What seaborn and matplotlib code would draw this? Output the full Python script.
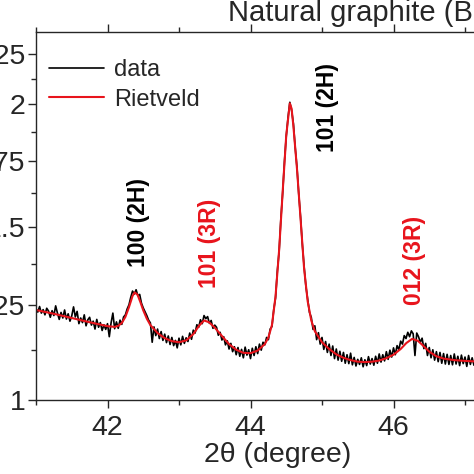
import numpy as np
import pandas as pd
import matplotlib
matplotlib.use("Agg")
import matplotlib.pyplot as plt
import seaborn as sns
from matplotlib.ticker import FixedLocator, FixedFormatter, MultipleLocator, NullFormatter

# ---------------- data ----------------
# measured pattern: 2theta scan from 41.0 to 47.5 deg, step 0.025
scan_start = 41.0
scan_stop = 47.5
data_intensity = [
    1.238, 1.229, 1.245, 1.226, 1.236, 1.221, 1.240, 1.232, 1.214, 1.233,
    1.219, 1.247, 1.226, 1.208, 1.228, 1.212, 1.235, 1.209, 1.224, 1.203,
    1.218, 1.244, 1.215, 1.231, 1.196, 1.212, 1.199, 1.221, 1.190, 1.207,
    1.214, 1.192, 1.203, 1.181, 1.208, 1.186, 1.199, 1.177, 1.193, 1.180,
    1.196, 1.160, 1.198, 1.226, 1.182, 1.201, 1.183, 1.206, 1.194, 1.215,
    1.221, 1.238, 1.250, 1.272, 1.291, 1.282, 1.295, 1.277, 1.281, 1.255,
    1.241, 1.230, 1.219, 1.206, 1.198, 1.145, 1.187, 1.163, 1.181, 1.155,
    1.174, 1.150, 1.167, 1.144, 1.162, 1.139, 1.158, 1.136, 1.150, 1.130,
    1.156, 1.138, 1.161, 1.142, 1.157, 1.147, 1.170, 1.153, 1.178, 1.170,
    1.193, 1.186, 1.207, 1.196, 1.219, 1.210, 1.216, 1.197, 1.205, 1.183,
    1.192, 1.186, 1.164, 1.172, 1.151, 1.160, 1.138, 1.149, 1.127, 1.142,
    1.120, 1.133, 1.112, 1.131, 1.108, 1.126, 1.104, 1.132, 1.111, 1.125,
    1.102, 1.129, 1.110, 1.133, 1.115, 1.140, 1.124, 1.145, 1.138, 1.158,
    1.152, 1.181, 1.188, 1.236, 1.270, 1.352, 1.416, 1.530, 1.626, 1.749,
    1.856, 1.940, 2.010, 1.972, 1.912, 1.808, 1.726, 1.620, 1.536, 1.440,
    1.367, 1.305, 1.266, 1.228, 1.214, 1.180, 1.190, 1.152, 1.171, 1.140,
    1.158, 1.126, 1.147, 1.118, 1.140, 1.110, 1.135, 1.102, 1.127, 1.098,
    1.121, 1.095, 1.118, 1.090, 1.112, 1.089, 1.116, 1.086, 1.105, 1.083,
    1.100, 1.087, 1.104, 1.081, 1.099, 1.084, 1.107, 1.088, 1.102, 1.085,
    1.108, 1.090, 1.114, 1.093, 1.112, 1.096, 1.120, 1.100, 1.124, 1.106,
    1.130, 1.112, 1.136, 1.125, 1.148, 1.140, 1.163, 1.155, 1.172, 1.160,
    1.176, 1.168, 1.110, 1.170, 1.160, 1.145, 1.156, 1.128, 1.142, 1.110,
    1.131, 1.104, 1.125, 1.098, 1.120, 1.094, 1.118, 1.090, 1.115, 1.088,
    1.113, 1.087, 1.110, 1.086, 1.114, 1.088, 1.108, 1.084, 1.111, 1.089,
    1.106, 1.082, 1.110, 1.087, 1.104, 1.085, 1.102, 1.089, 1.107, 1.086,
    1.101, 1.088, 1.104, 1.085, 1.099, 1.090, 1.103, 1.084, 1.100, 1.089,
    1.096,
]

# Rietveld fit curve
fit_2theta = [
    41.0, 41.25, 41.5, 41.75, 42.0, 42.1, 42.15, 42.2, 42.25, 42.3,
    42.35, 42.38, 42.42, 42.46, 42.5, 42.55, 42.6, 42.7, 42.8, 42.9,
    43.0, 43.1, 43.2, 43.28, 43.35, 43.42, 43.5, 43.6, 43.7, 43.8,
    43.9, 44.0, 44.1, 44.2, 44.25, 44.3, 44.35, 44.4, 44.45, 44.5,
    44.55, 44.575, 44.6, 44.65, 44.7, 44.75, 44.8, 44.85, 44.9, 45.0,
    45.1, 45.2, 45.3, 45.4, 45.5, 45.6, 45.7, 45.8, 45.9, 46.0,
    46.1, 46.18, 46.26, 46.34, 46.42, 46.5, 46.6, 46.7, 46.85, 47.0,
    47.2, 47.5,
]
fit_intensity = [
    1.235, 1.224, 1.212, 1.200, 1.189, 1.187, 1.190, 1.198, 1.215, 1.243,
    1.276, 1.287, 1.280, 1.258, 1.234, 1.210, 1.192, 1.170, 1.156, 1.148,
    1.145, 1.150, 1.167, 1.190, 1.205, 1.200, 1.185, 1.162, 1.140, 1.125,
    1.117, 1.116, 1.123, 1.140, 1.158, 1.192, 1.275, 1.420, 1.630, 1.860,
    2.005, 1.980, 1.900, 1.720, 1.530, 1.360, 1.260, 1.205, 1.175, 1.145,
    1.127, 1.113, 1.104, 1.098, 1.094, 1.093, 1.094, 1.097, 1.103, 1.112,
    1.127, 1.143, 1.154, 1.149, 1.135, 1.120, 1.108, 1.102, 1.098, 1.096,
    1.094, 1.092,
]

series_labels = ["data", "Rietveld"]
series_colors = ["#000000", "#e8141c"]

y_ticks = [1.0, 1.25, 1.5, 1.75, 2.0, 2.25]
y_tick_labels = ["1", "1.25", "1.5", "1.75", "2", "2.25"]
y_minor = [1.125, 1.375, 1.625, 1.875, 2.125, 2.375]

peak_labels = ["100 (2H)", "101 (3R)", "101 (2H)", "012 (3R)"]
peak_colors = ["#000000", "#e8141c", "#000000", "#e8141c"]
peak_label_x = [42.44, 43.43, 45.07, 46.30]
peak_label_y = [1.365, 1.300, 1.787, 1.249]

title_text = "Natural graphite (Br"
x_label = "2\u03b8 (degree)"

# ---------------- plot ----------------
sns.set_style("ticks")
plt.rcParams["font.family"] = ["Liberation Sans", "DejaVu Sans"]
plt.rcParams["axes.linewidth"] = 1.0

data_2theta = np.linspace(scan_start, scan_stop, len(data_intensity))
df_data = pd.DataFrame({"two_theta": data_2theta, "intensity": data_intensity,
                        "series": series_labels[0]})
df_fit = pd.DataFrame({"two_theta": fit_2theta, "intensity": fit_intensity,
                       "series": series_labels[1]})

fig = plt.figure(figsize=(4.74, 4.74), dpi=100)
W = 474.0
px_per_deg = 71.5
x_lo, x_hi = 41.0, 47.75
ax = fig.add_axes([36 / W, 74 / W, (x_hi - x_lo) * px_per_deg / W, 368 / W])

sns.lineplot(data=df_data, x="two_theta", y="intensity", color=series_colors[0],
             lw=1.2, ax=ax, label=series_labels[0], sort=False, estimator=None)
sns.lineplot(data=df_fit, x="two_theta", y="intensity", color=series_colors[1],
             lw=1.5, ax=ax, label=series_labels[1], sort=False, estimator=None)

ax.set_yscale("log")
ax.set_xlim(x_lo, x_hi)
ax.set_ylim(1.0, 2.37)

ax.yaxis.set_major_locator(FixedLocator(y_ticks))
ax.yaxis.set_major_formatter(FixedFormatter(y_tick_labels))
ax.yaxis.set_minor_locator(FixedLocator(y_minor))
ax.yaxis.set_minor_formatter(NullFormatter())
ax.xaxis.set_major_locator(MultipleLocator(2))
ax.xaxis.set_minor_locator(MultipleLocator(1))

ax.tick_params(axis="both", which="major", direction="out", length=5.5, width=1.0,
               labelsize=20.5, pad=5, top=True, right=False)
ax.tick_params(axis="both", which="minor", direction="out", length=3.5, width=1.0,
               top=True, right=False)
ax.tick_params(axis="y", which="major", pad=2)

ax.set_xlabel(x_label, fontsize=20.5, labelpad=1)
ax.set_ylabel("")

for lab, col, px, py in zip(peak_labels, peak_colors, peak_label_x, peak_label_y):
    ax.text(px, py, lab, color=col, rotation=90, ha="center", va="bottom",
            fontsize=16.5, fontweight="bold")

fig.text(228 / W, 1 - 21 / W, title_text, fontsize=21, ha="left", va="baseline")

leg = ax.legend(loc="upper left", bbox_to_anchor=(49 / W, 1 - 59 / W),
                bbox_transform=fig.transFigure, frameon=False, fontsize=17,
                handlelength=2.35, handletextpad=0.4, labelspacing=0.32,
                borderpad=0, borderaxespad=0)

fig.savefig("out.png", dpi=100)
